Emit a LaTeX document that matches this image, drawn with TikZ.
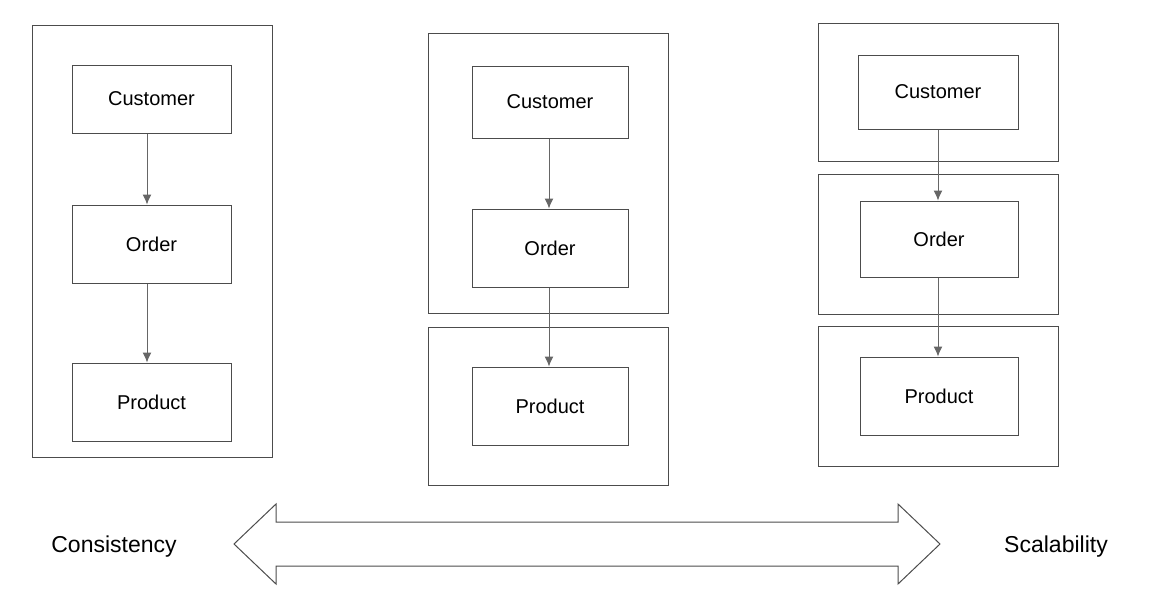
\documentclass[tikz,border=0pt]{standalone}
\usepackage{fontspec}
\setmainfont{Liberation Sans}
\usetikzlibrary{arrows.meta}
\begin{document}
\begin{tikzpicture}[x=1pt,y=-1pt,
  outer/.style={draw=black!70,line width=1pt},
  ent/.style={draw=black!70,line width=1pt,font=\fontsize{20}{24}\selectfont},
  arr/.style={draw=black!60,line width=1pt,-{Latex[length=10pt,width=9pt]}}]
\useasboundingbox (0,0) rectangle (1170,608);
% left
\draw[outer] (32,25) rectangle (272,457);
\node[ent,minimum width=159pt,minimum height=68pt] (c1) at (151.5,99) {Customer};
\node[ent,minimum width=159pt,minimum height=78pt] (o1) at (151.5,244) {Order};
\node[ent,minimum width=159pt,minimum height=78pt] (p1) at (151.5,402) {Product};
\draw[arr] (c1.south -| 147,0) -- (o1.north -| 147,0);
\draw[arr] (o1.south -| 147,0) -- (p1.north -| 147,0);
% middle
\draw[outer] (428,33) rectangle (668,313);
\draw[outer] (428,327) rectangle (668,485);
\node[ent,minimum width=156pt,minimum height=72pt] (c2) at (550,102) {Customer};
\node[ent,minimum width=156pt,minimum height=78pt] (o2) at (550,248) {Order};
\node[ent,minimum width=156pt,minimum height=78pt] (p2) at (550,406) {Product};
\draw[arr] (c2.south -| 549,0) -- (o2.north -| 549,0);
\draw[arr] (o2.south -| 549,0) -- (p2.north -| 549,0);
% right
\draw[outer] (818,23) rectangle (1058,161);
\draw[outer] (818,174) rectangle (1058,314);
\draw[outer] (818,326) rectangle (1058,466);
\node[ent,minimum width=160pt,minimum height=74pt] (c3) at (938,92) {Customer};
\node[ent,minimum width=158pt,minimum height=76pt] (o3) at (939,239) {Order};
\node[ent,minimum width=158pt,minimum height=78pt] (p3) at (939,396) {Product};
\draw[arr] (c3.south -| 938,0) -- (o3.north -| 938,0);
\draw[arr] (o3.south -| 938,0) -- (p3.north -| 938,0);
% double arrow
\draw[black!70,line width=1pt,line join=miter] (234,544) -- (276,504) -- (276,522) -- (898,522) -- (898,504) -- (940,544)
  -- (898,584) -- (898,566) -- (276,566) -- (276,584) -- cycle;
\node[font=\fontsize{23}{28}\selectfont] (cons) at (114,547) {Consistency};
\node[font=\fontsize{23}{28}\selectfont] (scal) at (1056,547) {Scalability};
\end{tikzpicture}
\end{document}
